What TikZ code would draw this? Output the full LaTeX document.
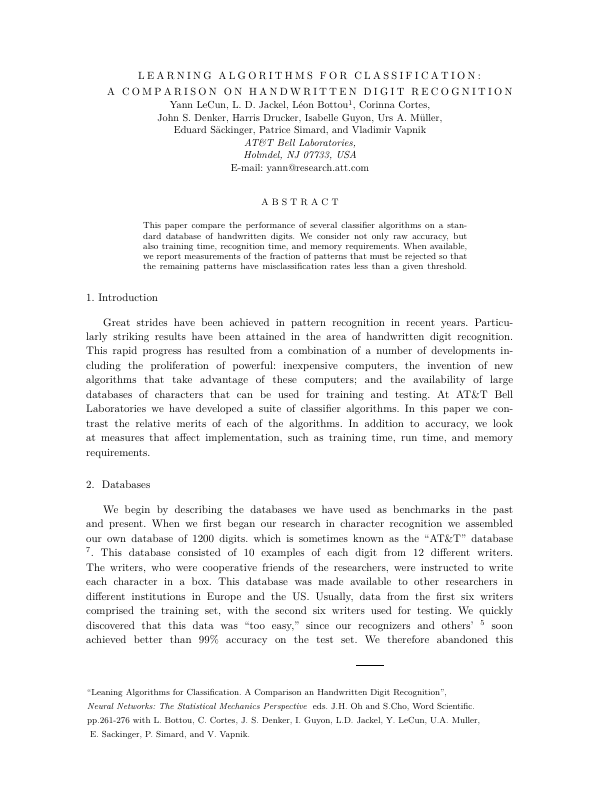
\documentclass[tikz,border=0pt]{standalone}
\usepackage{fontspec}
\usepackage{tikz}
\usetikzlibrary{positioning}
\tikzset{
  bodyline/.style={anchor=base west, inner sep=0pt, font=\fontsize{10.9}{12}\selectfont},
  absline/.style={anchor=base west, inner sep=0pt, font=\fontsize{8.9}{10}\selectfont},
  noteline/.style={anchor=base west, inner sep=0pt, font=\fontsize{8.8}{10}\selectfont},
  headline/.style={anchor=base, inner sep=0pt, font=\fontsize{10.2}{11}\selectfont},
  titleline/.style={anchor=base west, inner sep=0pt, font=\fontsize{10.5}{12}\selectfont},
  secthead/.style={anchor=base west, inner sep=0pt, font=\fontsize{10.9}{12}\selectfont},
}
\newcommand{\fullline}[2]{\makebox[#1pt][s]{#2}}
\frenchspacing

\begin{document}
\begin{tikzpicture}[x=1pt, y=-1pt]
\useasboundingbox (0,0) rectangle (600,786);
% title block
\node[titleline] (title1) at (138,80) {\fullline{329}{L E A R N I N G \ \ A L G O R I T H M S \ \ F O R \ \ C L A S S I F I C A T I O N :}};
\node[titleline] (title2) at (107,96) {\fullline{380}{A \ \ C O M P A R I S O N \ \ O N \ \ H A N D W R I T T E N \ \ D I G I T \ \ R E C O G N I T I O N}};
\foreach \txt [count=\i] in {{Yann LeCun, L. D. Jackel, Léon Bottou\textsuperscript{1}, Corinna Cortes,},
    {John S. Denker, Harris Drucker, Isabelle Guyon, Urs A. Müller,},
    {Eduard Säckinger, Patrice Simard, and Vladimir Vapnik},
    {\itshape AT\&T Bell Laboratories,},
    {\itshape Holmdel, NJ 07733, USA},
    {E-mail: yann@research.att.com}}
  \node[headline] (author\i) at (300,{109+12.5*(\i-1)}) {\txt};
% abstract
\node[headline, font=\fontsize{9.4}{11}\selectfont] (abstitle) at (300,206) {A B S T R A C T};
\foreach \txt [count=\i] in {{This paper compare the performance of several classifier algorithms on a stan-},
    {dard database of handwritten digits. We consider not only raw accuracy, but},
    {also training time, recognition time, and memory requirements. When available,},
    {we report measurements of the fraction of patterns that must be rejected so that},
    {the remaining patterns have misclassification rates less than a given threshold.}}
  \node[absline] (abs\i) at (143,{229+10.2*(\i-1)}) {\fullline{324}{\txt}};
% section 1
\node[secthead] (sec1) at (86,301) {1. Introduction};
\foreach \txt [count=\i] in {{\hspace*{17pt}Great strides have been achieved in pattern recognition in recent years. Particu-},
    {larly striking results have been attained in the area of handwritten digit recognition.},
    {This rapid progress has resulted from a combination of a number of developments in-},
    {cluding the proliferation of powerful: inexpensive computers, the invention of new},
    {algorithms that take advantage of these computers; and the availability of large},
    {databases of characters that can be used for training and testing. At AT\&T Bell},
    {Laboratories we have developed a suite of classifier algorithms. In this paper we con-},
    {trast the relative merits of each of the algorithms. In addition to accuracy, we look},
    {at measures that affect implementation, such as training time, run time, and memory}}
  \node[bodyline] (intro\i) at (86,{326+14.45*(\i-1)}) {\fullline{427}{\txt}};
\node[bodyline] (intro10) at (86,456) {requirements.};
% section 2
\node[secthead] (sec2) at (86,488) {2.\ \ Databases};
\foreach \txt [count=\i] in {{\hspace*{17pt}We begin by describing the databases we have used as benchmarks in the past},
    {and present. When we first began our research in character recognition we assembled},
    {our own database of 1200 digits. which is sometimes known as the ``AT\&T'' database},
    {\textsuperscript{7}. This database consisted of 10 examples of each digit from 12 different writers.},
    {The writers, who were cooperative friends of the researchers, were instructed to write},
    {each character in a box. This database was made available to other researchers in},
    {different institutions in Europe and the US. Usually, data from the first six writers},
    {comprised the training set, with the second six writers used for testing. We quickly},
    {discovered that this data was ``too easy,'' since our recognizers and others' \textsuperscript{5} soon},
    {achieved better than 99\% accuracy on the test set. We therefore abandoned this}}
  \node[bodyline] (data\i) at (86,{513+14.55*(\i-1)}) {\fullline{427}{\txt}};
% footnote
\coordinate (rulea) at (356,665);
\coordinate (ruleb) at (384,665);
\draw[line width=0.8pt] (rulea) -- (ruleb);
\foreach \txt [count=\i] in {{``Leaning Algorithms for Classification. A Comparison an Handwritten Digit Recognition'',},
    {\textit{Neural Networks: The Statistical Mechanics Perspective}\ \ eds. J.H. Oh and S.Cho, Word Scientific.},
    {pp.261-276 with L. Bottou, C. Cortes, J. S. Denker, I. Guyon, L.D. Jackel, Y. LeCun, U.A. Muller,},
    {\ E. Sackinger, P. Simard, and V. Vapnik.}}
  \node[noteline] (note\i) at (87,{695+14*(\i-1)}) {\txt};
\end{tikzpicture}
\end{document}
